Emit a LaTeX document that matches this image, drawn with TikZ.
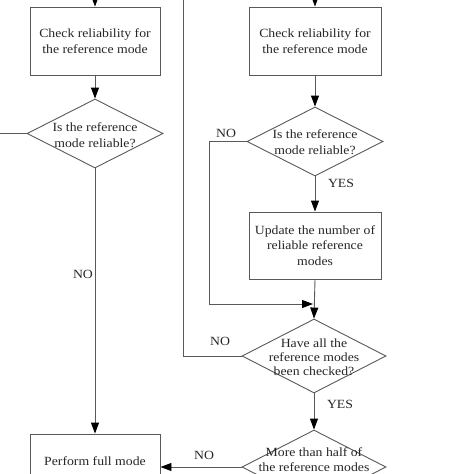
\documentclass[tikz,border=0pt]{standalone}
\usepackage{fontspec}
\setmainfont{Liberation Serif}[FakeStretch=1.1]
\usetikzlibrary{shapes.geometric,arrows.meta}
\definecolor{linecol}{gray}{0.35}
\tikzset{
  base/.style={font=\fontsize{12.5}{15.5}\selectfont, text=black!85},
  procbox/.style={base, rectangle, draw=linecol, line width=0.9pt, align=center, inner sep=0pt},
  decision/.style={diamond, draw=linecol, line width=0.9pt, inner sep=0pt},
  dtext/.style={base, align=center, inner sep=0pt},
  lbl/.style={base, inner sep=0pt},
  conn/.style={draw=linecol, line width=0.9pt},
  arr/.style={conn, -{Triangle[length=11pt,width=8pt,color=black]}},
}
\begin{document}
\begin{tikzpicture}[x=1pt,y=-1pt]
\useasboundingbox (0,0) rectangle (474,474);
\clip (0,0) rectangle (474,474);

% boxes
\node[procbox, minimum width=130pt, minimum height=68pt] (b1) at (95,41) {Check reliability for\\the reference mode};
\node[procbox, minimum width=132pt, minimum height=68pt] (b2) at (315,41) {Check reliability for\\the reference mode};
\node[procbox, minimum width=132pt, minimum height=67pt] (up) at (315,245.5) {Update the number of\\reliable reference\\modes};
\node[procbox, minimum width=130pt, minimum height=68pt] (pf) at (95,468) {};
\node[dtext] (pft) at (95,461) {Perform full mode};

% diamonds
\node[decision, minimum width=136pt, minimum height=69pt] (d1) at (95,133.5) {};
\node[dtext] (d1t) at (95,135) {Is the reference\\mode reliable?};
\node[decision, minimum width=136pt, minimum height=69pt] (d2) at (315,141.5) {};
\node[dtext] (d2t) at (315,142) {Is the reference\\mode reliable?};
\node[decision, minimum width=144pt, minimum height=74pt] (d3) at (314,356) {};
\node[dtext, font=\fontsize{12.5}{13.8}\selectfont] (d3t) at (314,357) {Have all the\\reference modes\\been checked?};
\node[decision, minimum width=144pt, minimum height=74pt] (d4) at (314,467) {};
\node[dtext] (d4t) at (314,459.5) {More than half of\\the reference modes};

% free ends
\coordinate (t1) at (95,0);
\coordinate (t2) at (315,0);
\coordinate (l1) at (0,133.5);
\coordinate (v1) at (183,0);
\coordinate (v2) at (183,356);
\coordinate (n1) at (209,141.5);
\coordinate (n2) at (209,304);
\coordinate (mg) at (313,304);

% connectors
\draw[arr] (t1) -- (b1.north);
\draw[arr] (t2) -- (b2.north);
\draw[arr] (b1.south) -- (d1.north);
\draw[arr] (b2.south) -- (d2.north);
\draw[conn] (d1.west) -- (l1);
\draw[arr] (d1.south) -- (pf.north);
\draw[arr] (d2.south) -- (up.north);
\draw[conn] (d2.west) -- (n1) -- (n2);
\draw[arr] (n2) -- (mg);
\draw[arr] (up.south) -- (d3.north);
\draw[conn] (v1) -- (v2) -- (d3.west);
\draw[arr] (d3.south) -- (d4.north);
\draw[arr] (d4.west) -- (pf.east |- d4.west);

% labels
\node[lbl] (y1) at (341,183) {YES};
\node[lbl] (y2) at (340,404) {YES};
\node[lbl] (no1) at (226,133) {NO};
\node[lbl] (no2) at (220,341) {NO};
\node[lbl] (no3) at (83,274) {NO};
\node[lbl] (no4) at (204,455) {NO};
\end{tikzpicture}
\end{document}
